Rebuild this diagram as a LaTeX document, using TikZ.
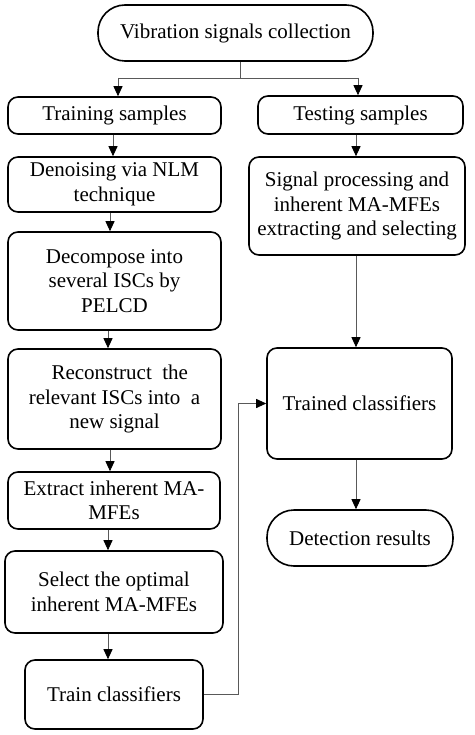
\documentclass[tikz,border=0pt]{standalone}
\usepackage{fontspec}
\setmainfont{Liberation Serif}
\usetikzlibrary{arrows.meta}
\begin{document}
\begin{tikzpicture}[x=1pt,y=-1pt,
  box/.style={draw,line width=1.6pt,rounded corners=10pt,align=center,inner sep=0pt,
    font=\fontsize{21}{24.5}\selectfont},
  stad/.style={box,rounded corners=27pt},
  conn/.style={draw=black!65,line width=0.9pt},
  arr/.style={conn,-{Triangle[length=10pt,width=9pt,color=black,fill=black]}}]
\useasboundingbox (0,0) rectangle (474,735);
\node[stad,minimum width=275pt,minimum height=56pt] (top) at (235.5,33) {Vibration signals collection};
\node[box,minimum width=213pt,minimum height=37pt] (train) at (114.5,115.5) {Training samples};
\node[box,minimum width=205pt,minimum height=38pt] (test) at (360.5,115) {Testing samples};
\node[box,minimum width=213pt,minimum height=55pt] (deno) at (114.5,184.5) {Denoising via NLM\\technique};
\node[box,minimum width=213pt,minimum height=98pt] (decomp) at (114.5,281) {Decompose into\\several ISCs by\\PELCD};
\node[box,minimum width=213pt,minimum height=100pt] (recon) at (114.5,399) {\ \ Reconstruct\ \ the\\relevant ISCs into\ \ a\\new signal};
\node[box,minimum width=212pt,minimum height=57pt] (extract) at (114,500.5) {Extract inherent MA-\\MFEs};
\node[box,minimum width=218pt,minimum height=82pt] (select) at (114,592) {Select the optimal\\inherent MA-MFEs};
\node[box,minimum width=178pt,minimum height=69pt] (trainc) at (114,694.5) {Train classifiers};
\node[box,minimum width=216pt,minimum height=98pt] (sigproc) at (357,206) {Signal processing and\\inherent MA-MFEs\\extracting and selecting};
\node[box,minimum width=185pt,minimum height=111pt] (trained) at (359.5,403.5) {Trained classifiers};
\node[stad,minimum width=186pt,minimum height=56pt] (detect) at (360,538) {Detection results};
\coordinate (split) at (240,78);
\draw[conn] (top.south -| split) -- (split);
\draw[arr] (split -| 118,0) -- (train.north -| 118,0);
\draw[conn] (split -| 118,0) -- (split -| 358,0);
\draw[arr] (split -| 358,0) -- (test.north -| 358,0);
\draw[arr] (train.south -| 113,0) -- (deno.north -| 113,0);
\draw[arr] (deno.south -| 110,0) -- (decomp.north -| 110,0);
\draw[arr] (decomp.south -| 108,0) -- (recon.north -| 108,0);
\draw[arr] (recon.south -| 110,0) -- (extract.north -| 110,0);
\draw[arr] (extract.south -| 108,0) -- (select.north -| 108,0);
\draw[arr] (select.south -| 108,0) -- (trainc.north -| 108,0);
\draw[arr] (test.south -| 356,0) -- (sigproc.north -| 356,0);
\draw[arr] (sigproc.south -| 356,0) -- (trained.north -| 356,0);
\draw[arr] (trained.south -| 356,0) -- (detect.north -| 356,0);
\draw[arr] (trainc.east) -- (trainc.east -| 238,0) |- (trained.west);
\end{tikzpicture}
\end{document}
